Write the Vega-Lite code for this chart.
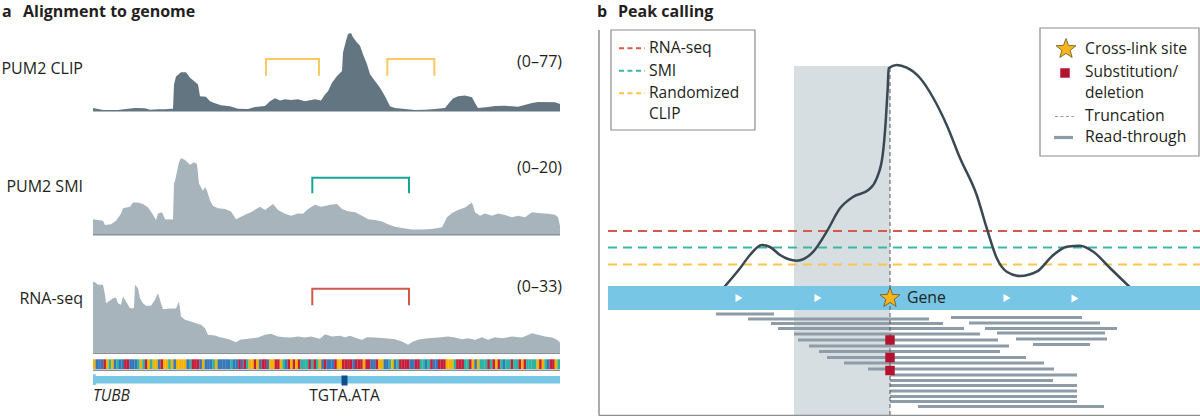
{
"$schema":"https://vega.github.io/schema/vega-lite/v6.json",
"width":1200,"height":416,"padding":0,"background":"white",
"config":{"view":{"stroke":null},"font":"Open Sans"},
"resolve":{"scale":{"x":"independent","y":"independent","color":"independent"}},
"layer":[
{"data":{"values":[{"pos":0,"reads":2.7},{"pos":5,"reads":1.7},{"pos":13,"reads":0.3},{"pos":25,"reads":0.7},{"pos":33,"reads":1.7},{"pos":42,"reads":2.7},{"pos":52,"reads":2.3},{"pos":57,"reads":1},{"pos":65,"reads":1.3},{"pos":72,"reads":1.3},{"pos":78,"reads":2},{"pos":80,"reads":2},{"pos":81,"reads":26},{"pos":83,"reads":34},{"pos":88,"reads":38},{"pos":93,"reads":38},{"pos":97,"reads":32.7},{"pos":101,"reads":29.3},{"pos":105,"reads":26},{"pos":107,"reads":14.3},{"pos":113,"reads":13.7},{"pos":117,"reads":9.3},{"pos":122,"reads":7.3},{"pos":128,"reads":5.3},{"pos":137,"reads":4.3},{"pos":145,"reads":2},{"pos":155,"reads":1.7},{"pos":162,"reads":3.7},{"pos":172,"reads":4.7},{"pos":177,"reads":9.3},{"pos":182,"reads":12.3},{"pos":187,"reads":10},{"pos":192,"reads":11.3},{"pos":198,"reads":10.7},{"pos":205,"reads":11.3},{"pos":212,"reads":9.3},{"pos":222,"reads":11.3},{"pos":228,"reads":10},{"pos":232,"reads":16},{"pos":235,"reads":19.3},{"pos":239,"reads":27.7},{"pos":244,"reads":34.3},{"pos":249,"reads":39.3},{"pos":250,"reads":57.7},{"pos":253,"reads":69.3},{"pos":255,"reads":76},{"pos":258,"reads":77},{"pos":260,"reads":72.7},{"pos":264,"reads":67.7},{"pos":267,"reads":64.3},{"pos":270,"reads":56},{"pos":274,"reads":46},{"pos":277,"reads":36},{"pos":282,"reads":29.3},{"pos":287,"reads":22.7},{"pos":292,"reads":14.3},{"pos":297,"reads":4.3},{"pos":302,"reads":2.7},{"pos":312,"reads":1.7},{"pos":322,"reads":0.7},{"pos":332,"reads":1},{"pos":342,"reads":1.7},{"pos":352,"reads":2.7},{"pos":356,"reads":7.7},{"pos":360,"reads":12},{"pos":365,"reads":14.3},{"pos":372,"reads":15},{"pos":379,"reads":13.3},{"pos":382,"reads":7.7},{"pos":385,"reads":2.7},{"pos":395,"reads":3.7},{"pos":402,"reads":4.7},{"pos":412,"reads":5},{"pos":419,"reads":4.3},{"pos":425,"reads":4},{"pos":439,"reads":7.7},{"pos":445,"reads":8.7},{"pos":462,"reads":8.3},{"pos":467,"reads":6.7}]},
 "mark":{"type":"area","color":"#627580"},
 "encoding":{"x":{"field":"pos","type":"quantitative","scale":{"domain":[-93,1107],"nice":false,"zero":false},"axis":null},
 "y":{"field":"reads","type":"quantitative","scale":{"domain":[-302.6,109.7],"nice":false,"zero":false},"axis":null},
 "y2":{"datum":0}}},
{"data":{"values":[{"pos":0,"reads":3.9},{"pos":5,"reads":3.7},{"pos":10,"reads":3.5},{"pos":12,"reads":2.4},{"pos":18,"reads":2.6},{"pos":23,"reads":3.5},{"pos":28,"reads":5.3},{"pos":30,"reads":6.8},{"pos":37,"reads":7.2},{"pos":40,"reads":8.3},{"pos":45,"reads":8.3},{"pos":50,"reads":7.9},{"pos":55,"reads":7.0},{"pos":60,"reads":5.1},{"pos":63,"reads":3.7},{"pos":65,"reads":5.4},{"pos":69,"reads":5.7},{"pos":72,"reads":3.9},{"pos":78,"reads":3.8},{"pos":80,"reads":3.8},{"pos":81,"reads":13.2},{"pos":82,"reads":14.0},{"pos":86,"reads":18.9},{"pos":88,"reads":20.0},{"pos":92,"reads":19.5},{"pos":97,"reads":18.2},{"pos":101,"reads":18.9},{"pos":104,"reads":18.4},{"pos":106,"reads":13.2},{"pos":108,"reads":12.3},{"pos":110,"reads":11.4},{"pos":112,"reads":12.4},{"pos":114,"reads":11.4},{"pos":117,"reads":8.8},{"pos":120,"reads":7.4},{"pos":125,"reads":6.8},{"pos":132,"reads":6.6},{"pos":138,"reads":5.9},{"pos":143,"reads":3.9},{"pos":147,"reads":4.4},{"pos":152,"reads":5.1},{"pos":158,"reads":5.7},{"pos":162,"reads":6.4},{"pos":167,"reads":7.2},{"pos":172,"reads":6.3},{"pos":180,"reads":7.9},{"pos":185,"reads":6.3},{"pos":192,"reads":5.3},{"pos":198,"reads":4.8},{"pos":205,"reads":5.4},{"pos":210,"reads":5.3},{"pos":215,"reads":6.6},{"pos":222,"reads":7.7},{"pos":228,"reads":7.2},{"pos":232,"reads":7.4},{"pos":237,"reads":7.7},{"pos":244,"reads":7.9},{"pos":249,"reads":6.6},{"pos":255,"reads":6.0},{"pos":262,"reads":5.7},{"pos":269,"reads":4.8},{"pos":275,"reads":3.9},{"pos":282,"reads":3.7},{"pos":289,"reads":3.3},{"pos":295,"reads":2.6},{"pos":302,"reads":1.9},{"pos":309,"reads":1.6},{"pos":319,"reads":1.2},{"pos":329,"reads":1.2},{"pos":339,"reads":1.3},{"pos":349,"reads":1.8},{"pos":354,"reads":4.4},{"pos":359,"reads":5.5},{"pos":365,"reads":6.3},{"pos":372,"reads":7.0},{"pos":379,"reads":8.3},{"pos":382,"reads":5.7},{"pos":387,"reads":4.8},{"pos":392,"reads":5.4},{"pos":399,"reads":4.8},{"pos":405,"reads":5.4},{"pos":412,"reads":5.0},{"pos":419,"reads":4.4},{"pos":425,"reads":4.8},{"pos":432,"reads":4.4},{"pos":439,"reads":5.7},{"pos":445,"reads":5.5},{"pos":455,"reads":5.3},{"pos":462,"reads":5.1},{"pos":465,"reads":4.4},{"pos":467,"reads":2.2}]},
 "mark":{"type":"area","color":"#a7b4bc"},
 "encoding":{"x":{"field":"pos","type":"quantitative","scale":{"domain":[-93,1107],"nice":false,"zero":false},"axis":null},
 "y":{"field":"reads","type":"quantitative","scale":{"domain":[-47.89,61.58],"nice":false,"zero":false},"axis":null},
 "y2":{"datum":0}}},
{"data":{"values":[{"pos":0,"reads":33.0},{"pos":2,"reads":32.6},{"pos":5,"reads":31.5},{"pos":10,"reads":31.5},{"pos":12,"reads":26.8},{"pos":13,"reads":22.9},{"pos":17,"reads":24.2},{"pos":20,"reads":25.2},{"pos":23,"reads":25.6},{"pos":25,"reads":22.9},{"pos":28,"reads":22.2},{"pos":30,"reads":26.0},{"pos":33,"reads":23.7},{"pos":37,"reads":20.6},{"pos":41,"reads":20.6},{"pos":42,"reads":31.5},{"pos":45,"reads":29.9},{"pos":47,"reads":25.2},{"pos":50,"reads":22.9},{"pos":53,"reads":21.7},{"pos":58,"reads":21.7},{"pos":62,"reads":24.5},{"pos":65,"reads":27.6},{"pos":68,"reads":22.9},{"pos":70,"reads":20.1},{"pos":77,"reads":20.5},{"pos":83,"reads":20.5},{"pos":86,"reads":23.7},{"pos":88,"reads":16.7},{"pos":92,"reads":15.2},{"pos":98,"reads":14.4},{"pos":103,"reads":13.6},{"pos":108,"reads":12.9},{"pos":112,"reads":11.3},{"pos":115,"reads":8.2},{"pos":122,"reads":7.9},{"pos":127,"reads":7.1},{"pos":132,"reads":6.6},{"pos":137,"reads":5.9},{"pos":143,"reads":4.8},{"pos":147,"reads":5.9},{"pos":155,"reads":6.4},{"pos":165,"reads":7.0},{"pos":172,"reads":8.2},{"pos":178,"reads":8.7},{"pos":185,"reads":7.4},{"pos":192,"reads":7.1},{"pos":198,"reads":7.0},{"pos":205,"reads":7.4},{"pos":212,"reads":7.0},{"pos":218,"reads":7.4},{"pos":227,"reads":6.4},{"pos":232,"reads":8.5},{"pos":239,"reads":7.4},{"pos":247,"reads":7.8},{"pos":252,"reads":7.1},{"pos":257,"reads":7.8},{"pos":264,"reads":6.6},{"pos":269,"reads":5.9},{"pos":274,"reads":7.1},{"pos":282,"reads":7.0},{"pos":292,"reads":6.6},{"pos":302,"reads":6.2},{"pos":309,"reads":5.1},{"pos":315,"reads":3.6},{"pos":320,"reads":5.1},{"pos":327,"reads":6.2},{"pos":335,"reads":6.6},{"pos":345,"reads":7.0},{"pos":355,"reads":7.4},{"pos":362,"reads":7.0},{"pos":369,"reads":6.2},{"pos":375,"reads":6.6},{"pos":382,"reads":5.9},{"pos":389,"reads":7.1},{"pos":395,"reads":5.9},{"pos":402,"reads":7.1},{"pos":409,"reads":6.6},{"pos":419,"reads":7.4},{"pos":429,"reads":7.0},{"pos":439,"reads":9.0},{"pos":445,"reads":8.2},{"pos":452,"reads":7.4},{"pos":459,"reads":7.0},{"pos":464,"reads":5.9},{"pos":467,"reads":4.6}]},
 "mark":{"type":"area","color":"#a7b4bc"},
 "encoding":{"x":{"field":"pos","type":"quantitative","scale":{"domain":[-93,1107],"nice":false,"zero":false},"axis":null},
 "y":{"field":"reads","type":"quantitative","scale":{"domain":[-29.51,163.84],"nice":false,"zero":false},"axis":null},
 "y2":{"datum":0}}},
{"data":{"values":[
{"i":0,"b":"G"},{"i":1,"b":"C"},{"i":2,"b":"C"},{"i":3,"b":"C"},{"i":4,"b":"T"},{"i":5,"b":"G"},{"i":6,"b":"A"},{"i":7,"b":"G"},{"i":8,"b":"C"},{"i":9,"b":"A"},
{"i":10,"b":"C"},{"i":11,"b":"C"},{"i":12,"b":"T"},{"i":13,"b":"T"},{"i":14,"b":"C"},{"i":15,"b":"C"},{"i":16,"b":"C"},{"i":17,"b":"A"},{"i":18,"b":"G"},{"i":19,"b":"A"},
{"i":20,"b":"T"},{"i":21,"b":"G"},{"i":22,"b":"A"},{"i":23,"b":"G"},{"i":24,"b":"G"},{"i":25,"b":"C"},{"i":26,"b":"T"},{"i":27,"b":"G"},{"i":28,"b":"G"},{"i":29,"b":"A"},
{"i":30,"b":"G"},{"i":31,"b":"C"},{"i":32,"b":"G"},{"i":33,"b":"G"},{"i":34,"b":"G"},{"i":35,"b":"G"},{"i":36,"b":"C"},{"i":37,"b":"A"},{"i":38,"b":"T"},{"i":39,"b":"T"},
{"i":40,"b":"T"},{"i":41,"b":"C"},{"i":42,"b":"G"},{"i":43,"b":"C"},{"i":44,"b":"C"},{"i":45,"b":"C"},{"i":46,"b":"A"},{"i":47,"b":"G"},{"i":48,"b":"C"},{"i":49,"b":"C"},
{"i":50,"b":"C"},{"i":51,"b":"C"},{"i":52,"b":"C"},{"i":53,"b":"A"},{"i":54,"b":"C"},{"i":55,"b":"C"},{"i":56,"b":"T"},{"i":57,"b":"C"},{"i":58,"b":"T"},{"i":59,"b":"A"},
{"i":60,"b":"G"},{"i":61,"b":"G"},{"i":62,"b":"T"},{"i":63,"b":"G"},{"i":64,"b":"C"},{"i":65,"b":"T"},{"i":66,"b":"T"},{"i":67,"b":"C"},{"i":68,"b":"G"},{"i":69,"b":"G"},
{"i":70,"b":"T"},{"i":71,"b":"T"},{"i":72,"b":"G"},{"i":73,"b":"A"},{"i":74,"b":"C"},{"i":75,"b":"T"},{"i":76,"b":"G"},{"i":77,"b":"T"},{"i":78,"b":"G"},{"i":79,"b":"T"},
{"i":80,"b":"A"},{"i":81,"b":"A"},{"i":82,"b":"A"},{"i":83,"b":"T"},{"i":84,"b":"A"},{"i":85,"b":"T"},{"i":86,"b":"A"},{"i":87,"b":"G"},{"i":88,"b":"C"},{"i":89,"b":"T"},
{"i":90,"b":"C"},{"i":91,"b":"C"},{"i":92,"b":"C"},{"i":93,"b":"T"},{"i":94,"b":"G"},{"i":95,"b":"G"},{"i":96,"b":"T"},{"i":97,"b":"T"},{"i":98,"b":"T"},{"i":99,"b":"T"},
{"i":100,"b":"C"},{"i":101,"b":"T"},{"i":102,"b":"T"},{"i":103,"b":"T"},{"i":104,"b":"G"},{"i":105,"b":"T"},{"i":106,"b":"T"},{"i":107,"b":"C"},{"i":108,"b":"C"},{"i":109,"b":"T"},
{"i":110,"b":"G"},{"i":111,"b":"G"},{"i":112,"b":"C"},{"i":113,"b":"C"},{"i":114,"b":"A"},{"i":115,"b":"G"},{"i":116,"b":"C"},{"i":117,"b":"A"},{"i":118,"b":"T"},{"i":119,"b":"T"},
{"i":120,"b":"T"},{"i":121,"b":"T"},{"i":122,"b":"C"},{"i":123,"b":"C"},{"i":124,"b":"T"},{"i":125,"b":"T"},{"i":126,"b":"A"},{"i":127,"b":"A"},{"i":128,"b":"C"},{"i":129,"b":"A"},
{"i":130,"b":"T"},{"i":131,"b":"C"},{"i":132,"b":"C"},{"i":133,"b":"T"},{"i":134,"b":"T"},{"i":135,"b":"T"},{"i":136,"b":"G"},{"i":137,"b":"G"},{"i":138,"b":"G"},{"i":139,"b":"A"},
{"i":140,"b":"T"},{"i":141,"b":"T"},{"i":142,"b":"T"},{"i":143,"b":"A"},{"i":144,"b":"A"},{"i":145,"b":"T"},{"i":146,"b":"G"},{"i":147,"b":"C"},{"i":148,"b":"G"},{"i":149,"b":"A"},
{"i":150,"b":"A"},{"i":151,"b":"A"},{"i":152,"b":"T"},{"i":153,"b":"A"},{"i":154,"b":"T"},{"i":155,"b":"G"},{"i":156,"b":"T"},{"i":157,"b":"A"},{"i":158,"b":"C"},{"i":159,"b":"A"},
{"i":160,"b":"A"},{"i":161,"b":"T"},{"i":162,"b":"A"},{"i":163,"b":"A"},{"i":164,"b":"T"},{"i":165,"b":"G"},{"i":166,"b":"T"},{"i":167,"b":"A"},{"i":168,"b":"A"},{"i":169,"b":"A"},
{"i":170,"b":"A"},{"i":171,"b":"G"},{"i":172,"b":"T"},{"i":173,"b":"G"},{"i":174,"b":"A"},{"i":175,"b":"C"},{"i":176,"b":"T"},{"i":177,"b":"T"},{"i":178,"b":"G"},{"i":179,"b":"A"}]},
 "mark":{"type":"rule","strokeWidth":2.7},
 "encoding":{"x":{"field":"i","type":"quantitative","scale":{"domain":[-36.35,426.25],"nice":false,"zero":false},"axis":null},
 "y":{"datum":359.3,"type":"quantitative","scale":{"domain":[0,416],"reverse":true,"nice":false,"zero":false},"axis":null},
 "y2":{"datum":369},
 "color":{"field":"b","type":"nominal","scale":{"domain":["A","C","G","T"],"range":["#2bb3a3","#3677b8","#f5b301","#c41e3a"]},"legend":null}}},
{"encoding":{"x":{"field":"x","type":"quantitative","scale":{"domain":[0,1200],"nice":false,"zero":false},"axis":null},
 "y":{"field":"y","type":"quantitative","scale":{"domain":[0,416],"reverse":true,"nice":false,"zero":false},"axis":null}},
 "resolve":{"scale":{"color":"independent"}},
 "layer":[
 {"data":{"values":[{"x":794,"x2":890,"y":66,"y2":415}]},"mark":{"type":"rect","color":"#d6dee2"},"encoding":{"x2":{"field":"x2"},"y2":{"field":"y2"}}},
 {"data":{"values":[{"x":611,"x2":755,"y":30,"y2":130},{"x":1040,"x2":1199,"y":28,"y2":156}]},"mark":{"type":"rect","fill":"white","stroke":"#8c8c8c","strokeWidth":1.2},"encoding":{"x2":{"field":"x2"},"y2":{"field":"y2"}}},
 {"data":{"values":[{"x":608,"x2":1200,"y":231,"k":"RNA-seq"},{"x":608,"x2":1200,"y":247.5,"k":"SMI"},{"x":608,"x2":1200,"y":264.5,"k":"Randomized CLIP"}]},
  "mark":{"type":"rule","strokeWidth":2,"strokeDash":[9,6]},
  "encoding":{"x2":{"field":"x2"},"color":{"field":"k","type":"nominal","scale":{"domain":["RNA-seq","SMI","Randomized CLIP"],"range":["#d75b4b","#3db5a3","#f9c54c"]},"legend":null}}},
 {"data":{"values":[{"x":619,"x2":645,"y":48.3,"k":"RNA-seq"},{"x":619,"x2":645,"y":70.7,"k":"SMI"},{"x":619,"x2":645,"y":93.3,"k":"Randomized CLIP"}]},
  "mark":{"type":"rule","strokeWidth":2,"strokeDash":[5,3.5]},
  "encoding":{"x2":{"field":"x2"},"color":{"field":"k","type":"nominal","scale":{"domain":["RNA-seq","SMI","Randomized CLIP"],"range":["#d75b4b","#3db5a3","#f9c54c"]},"legend":null}}},
 {"data":{"values":[{"x":721.7,"y":290},{"x":740,"y":268.3},{"x":750,"y":255},{"x":761.7,"y":245},{"x":770,"y":247},{"x":780,"y":255},{"x":796.7,"y":260.7},{"x":813.3,"y":251.7},{"x":826.7,"y":231.7},{"x":840,"y":208.3},{"x":853.3,"y":196.7},{"x":868.3,"y":190},{"x":876.7,"y":178.3},{"x":882.7,"y":155},{"x":885.7,"y":121.7},{"x":887.7,"y":88.3},{"x":888.7,"y":68.3},{"x":896.7,"y":65},{"x":906.7,"y":67.7},{"x":920,"y":78},{"x":933.3,"y":98},{"x":946.7,"y":125},{"x":960,"y":158},{"x":976.7,"y":195},{"x":986.7,"y":228},{"x":996.7,"y":258},{"x":1006.7,"y":271.7},{"x":1020,"y":276},{"x":1036.7,"y":271.7},{"x":1053.3,"y":255},{"x":1066.7,"y":246.7},{"x":1080,"y":245.7},{"x":1093.3,"y":251.7},{"x":1110,"y":268},{"x":1131.7,"y":289}]},
  "mark":{"type":"line","color":"#394852","strokeWidth":2.5,"interpolate":"monotone"},"encoding":{}},
 {"data":{"values":[{"x":608,"x2":1200,"y":286,"y2":310,"k":"gene"},{"x":93,"x2":560,"y":376,"y2":383.5,"k":"gene"},{"x":93,"x2":95.7,"y":374.3,"y2":385,"k":"gene"},{"x":341.5,"x2":347.5,"y":375.5,"y2":385.5,"k":"exon"}]},
  "mark":{"type":"rect"},
  "encoding":{"x2":{"field":"x2"},"y2":{"field":"y2"},"color":{"field":"k","type":"nominal","scale":{"domain":["gene","exon"],"range":["#77c6e6","#0f4d8c"]},"legend":null}}},
 {"data":{"values":[{"x":93,"x2":560,"y":110.7,"y2":110.7,"k":"clip"},{"x":93,"x2":560,"y":234.8,"y2":234.8,"k":"cov"},{"x":93,"x2":560,"y":353.2,"y2":353.2,"k":"cov"},{"x":93,"x2":560,"y":370.3,"y2":370.3,"k":"cov"},{"x":599,"x2":599,"y":30,"y2":415.5,"k":"frame"},{"x":599,"x2":1200,"y":415.5,"y2":415.5,"k":"frame"}]},
  "mark":{"type":"rule","strokeWidth":1.5},
  "encoding":{"x2":{"field":"x2"},"y2":{"field":"y2"},"color":{"field":"k","type":"nominal","scale":{"domain":["clip","cov","frame"],"range":["#627580","#86939c","#8f8f8f"]},"legend":null}}},
 {"data":{"values":[{"id":"c1","k":"CLIP","o":0,"x":266,"y":75.7},{"id":"c1","k":"CLIP","o":1,"x":266,"y":59},{"id":"c1","k":"CLIP","o":2,"x":319,"y":59},{"id":"c1","k":"CLIP","o":3,"x":319,"y":75.7},
  {"id":"c2","k":"CLIP","o":0,"x":387.3,"y":75.7},{"id":"c2","k":"CLIP","o":1,"x":387.3,"y":59},{"id":"c2","k":"CLIP","o":2,"x":434.3,"y":59},{"id":"c2","k":"CLIP","o":3,"x":434.3,"y":75.7},
  {"id":"s","k":"SMI","o":0,"x":312.3,"y":193.3},{"id":"s","k":"SMI","o":1,"x":312.3,"y":177.7},{"id":"s","k":"SMI","o":2,"x":409,"y":177.7},{"id":"s","k":"SMI","o":3,"x":409,"y":193.3},
  {"id":"r","k":"RNA","o":0,"x":312.3,"y":305.3},{"id":"r","k":"RNA","o":1,"x":312.3,"y":288.7},{"id":"r","k":"RNA","o":2,"x":409,"y":288.7},{"id":"r","k":"RNA","o":3,"x":409,"y":305.3}]},
  "mark":{"type":"line","strokeWidth":2,"strokeJoin":"miter"},
  "encoding":{"detail":{"field":"id"},"order":{"field":"o"},"color":{"field":"k","type":"nominal","scale":{"domain":["CLIP","SMI","RNA"],"range":["#fbc862","#17a594","#d0594c"]},"legend":null}}},
 {"data":{"values":[{"x":739,"y":298},{"x":818,"y":298},{"x":1007,"y":298},{"x":1075,"y":298.5}]},
  "mark":{"type":"point","shape":"triangle-right","size":65,"filled":true,"fill":"white","opacity":1,"strokeWidth":0},"encoding":{}},
 {"data":{"values":[{"x":716,"x2":774,"y":314},{"x":748,"x2":929,"y":319},{"x":951,"x2":1082,"y":317.5},{"x":771,"x2":943,"y":323.5},{"x":969,"x2":1100,"y":323},{"x":778,"x2":964,"y":328.5},{"x":985,"x2":1117,"y":328.5},{"x":794,"x2":980,"y":334},{"x":997,"x2":1105,"y":333},{"x":798,"x2":998,"y":340},{"x":1016,"x2":1107,"y":339},{"x":809,"x2":1009,"y":346},{"x":1033,"x2":1090,"y":344.5},{"x":819,"x2":1000,"y":351.5},{"x":827,"x2":1026,"y":357.5},{"x":844,"x2":1044,"y":363},{"x":868,"x2":1054,"y":369},{"x":890,"x2":1077,"y":375},{"x":890,"x2":1053,"y":380.5},{"x":890,"x2":1077,"y":385.5},{"x":890,"x2":1077,"y":391},{"x":890,"x2":1077,"y":396.5},{"x":890,"x2":1077,"y":401.5},{"x":918,"x2":1104,"y":406.5},{"x":1054,"x2":1073,"y":137.5}]},
  "mark":{"type":"rule","strokeWidth":3.2,"color":"#8d9ca6"},"encoding":{"x2":{"field":"x2"}}},
 {"data":{"values":[{"x":890,"x2":890,"y":68,"y2":415}]},
  "mark":{"type":"rule","strokeWidth":1,"color":"#555555","strokeDash":[4,3]},"encoding":{"x2":{"field":"x2"},"y2":{"field":"y2"}}},
 {"data":{"values":[{"x":1055,"x2":1074,"y":116.5,"y2":116.5}]},
  "mark":{"type":"rule","strokeWidth":1,"color":"#9a9a9a","strokeDash":[3,2.5]},"encoding":{"x2":{"field":"x2"},"y2":{"field":"y2"}}},
 {"data":{"values":[{"x":890,"y":340},{"x":890,"y":357.5},{"x":890,"y":370.5},{"x":1065,"y":73}]},
  "mark":{"type":"point","shape":"square","size":90,"filled":true,"fill":"#b3132f","opacity":1,"strokeWidth":0},"encoding":{}},
 {"data":{"values":[{"x":890,"y":298},{"x":1066,"y":49}]},
  "mark":{"type":"point","shape":"M0,-1L0.247,-0.34L0.951,-0.309L0.399,0.13L0.588,0.809L0,0.42L-0.588,0.809L-0.399,0.13L-0.951,-0.309L-0.247,-0.34Z","size":440,"filled":true,"fill":"#f7b51d","stroke":"#6a5520","strokeWidth":0.8,"opacity":1},"encoding":{}},
 {"data":{"values":[{"x":2,"y":12,"t":"a"},{"x":23,"y":12,"t":"Alignment to genome"},{"x":597,"y":12,"t":"b"},{"x":618,"y":12,"t":"Peak calling"}]},
  "mark":{"type":"text","font":"Open Sans","fontSize":16,"fontWeight":"bold","align":"left","baseline":"middle","color":"#231f20"},"encoding":{"text":{"field":"t"}}},
 {"data":{"values":[{"x":83,"y":68.5,"t":"PUM2 CLIP"},{"x":83,"y":187,"t":"PUM2 SMI"},{"x":83,"y":298.5,"t":"RNA-seq"},{"x":562,"y":61.5,"t":"(0–77)"},{"x":562,"y":167.5,"t":"(0–20)"},{"x":562,"y":286.5,"t":"(0–33)"}]},
  "mark":{"type":"text","font":"Open Sans","fontSize":16,"align":"right","baseline":"middle","color":"#231f20"},"encoding":{"text":{"field":"t"}}},
 {"data":{"values":[{"x":649,"y":48,"t":"RNA-seq"},{"x":649,"y":70.5,"t":"SMI"},{"x":1085,"y":49,"t":"Cross-link site"},{"x":1085,"y":116,"t":"Truncation"},{"x":1085,"y":137,"t":"Read-through"},{"x":907,"y":298,"t":"Gene"}]},
  "mark":{"type":"text","font":"Open Sans","fontSize":15.8,"align":"left","baseline":"middle","color":"#231f20"},"encoding":{"text":{"field":"t"}}},
 {"data":{"values":[{"x":649,"y":97.5,"t":["Randomized","CLIP"]},{"x":1085,"y":76.5,"t":["Substitution/","deletion"]}]},
  "mark":{"type":"text","font":"Open Sans","fontSize":15.5,"lineHeight":21.3,"align":"left","baseline":"alphabetic","color":"#231f20"},"encoding":{"text":{"field":"t"}}},
 {"data":{"values":[{"x":344.5,"y":396,"t":"TGTA.ATA"}]},
  "mark":{"type":"text","font":"Open Sans","fontSize":15.5,"align":"center","baseline":"middle","color":"#231f20"},"encoding":{"text":{"field":"t"}}},
 {"data":{"values":[{"x":93,"y":396,"t":"TUBB"}]},
  "mark":{"type":"text","font":"Open Sans","fontSize":15.5,"fontStyle":"italic","align":"left","baseline":"middle","color":"#231f20"},"encoding":{"text":{"field":"t"}}}
 ]}
]}
